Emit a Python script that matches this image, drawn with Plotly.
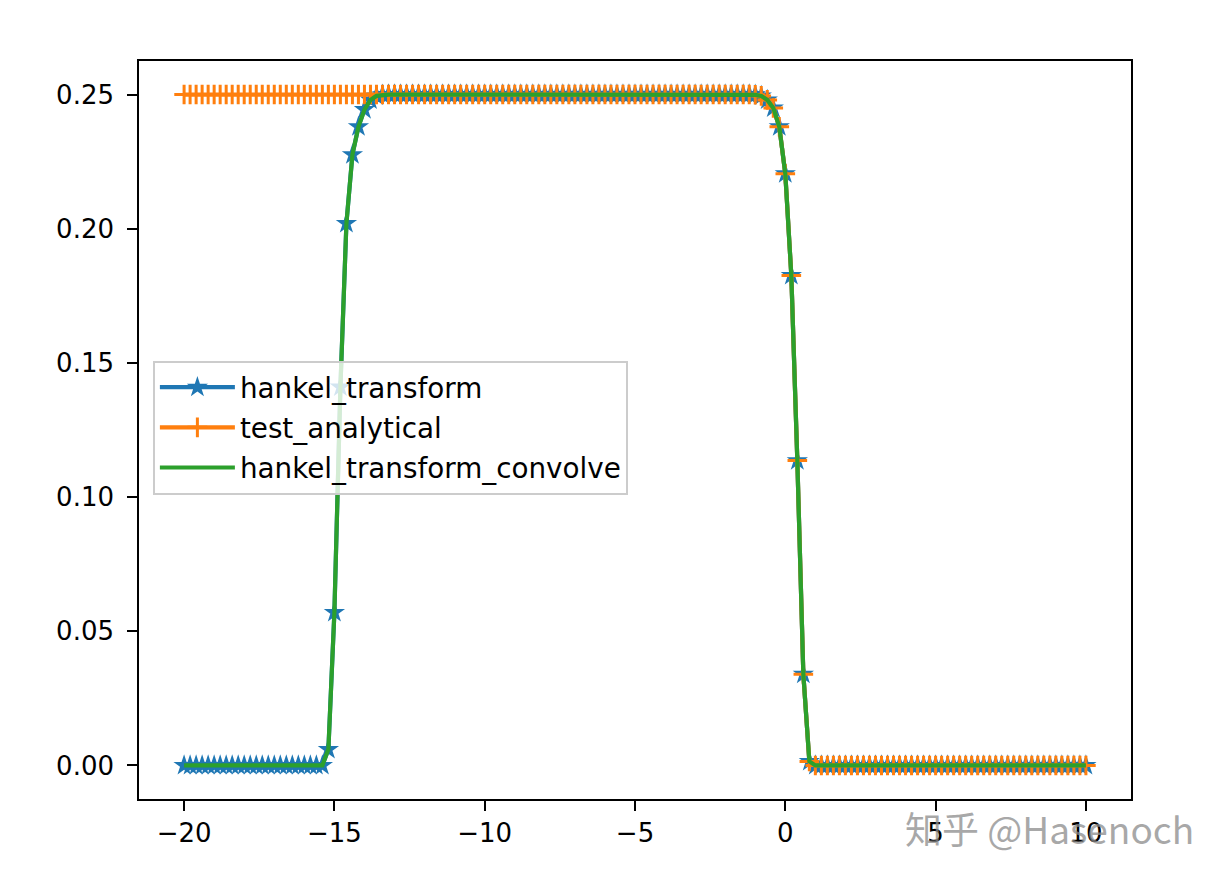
import numpy as np
import plotly.graph_objects as go

# sample grid (ln r), -20 .. 10 in steps of 0.2
x = np.round(np.linspace(-20, 10, 151), 1)

# values
rise = [0.006, 0.057, 0.141, 0.202, 0.2276, 0.238, 0.2444, 0.248, 0.2495, 0.2499]
fall = [0.2499, 0.2495, 0.248, 0.245, 0.238, 0.2205, 0.1826, 0.1136, 0.034, 0.0015]

hankel_transform = [0.0] * 24 + rise + [0.25] * 61 + fall + [0.0] * 46
test_analytical = [0.25] * 95 + fall + [0.0] * 46
hankel_transform_convolve = [0.0] * 24 + rise + [0.25] * 61 + fall + [0.0] * 46

x_ticks = [-20, -15, -10, -5, 0, 5, 10]
y_ticks = [0.00, 0.05, 0.10, 0.15, 0.20, 0.25]

blue = '#1f77b4'
orange = '#ff7f0e'
green = '#2ca02c'
font = 'DejaVu Sans'

fig = go.Figure()

fig.add_trace(go.Scatter(x=x, y=hankel_transform, mode='lines+markers', name='hankel_transform',
                         legendgroup='a',
                         line=dict(color=blue, width=4.2),
                         marker=dict(symbol='star', size=16, color=blue, line=dict(width=0))))
fig.add_trace(go.Scatter(x=x, y=test_analytical, mode='lines+markers', name='test_analytical',
                         legendgroup='b',
                         line=dict(color=orange, width=4.2),
                         marker=dict(symbol='cross-thin', size=14, color=orange,
                                     line=dict(color=orange, width=3))))
fig.add_trace(go.Scatter(x=x, y=hankel_transform_convolve, mode='lines', name='hankel_transform_convolve',
                         legendgroup='c',
                         line=dict(color=green, width=4.2)))

axis_style = dict(
    showline=True, mirror=True, linecolor='black', linewidth=2.2,
    ticks='outside', ticklen=9.7, tickwidth=2.2, tickcolor='black',
    showgrid=False, zeroline=False,
    tickfont=dict(family=font, size=26, color='black'),
)

fig.update_xaxes(range=[-21.5, 11.5], tickvals=x_ticks, **axis_style)
fig.update_yaxes(range=[-0.0125, 0.2625], tickvals=y_ticks, tickformat='.2f',
                 ticklabelstandoff=8, **axis_style)

# watermark
fig.add_annotation(text='知乎 @Hasenoch', xref='paper', yref='paper', x=0.918, y=-0.039,
                   showarrow=False, xanchor='center', yanchor='middle',
                   font=dict(family='Noto Sans CJK SC', size=37, color='rgba(140,140,140,0.75)'))

fig.update_layout(
    width=1222, height=876,
    margin=dict(l=131, r=99, t=53, b=85),
    paper_bgcolor='white', plot_bgcolor='white',
    showlegend=True,
    legend=dict(x=0.014, y=0.594, xanchor='left', yanchor='top',
                traceorder='grouped', tracegroupgap=1, itemwidth=75,
                bgcolor='rgba(255,255,255,0.8)', bordercolor='#cccccc', borderwidth=2,
                font=dict(family=font, size=27.8, color='black')),
)

fig.write_html("out.html")
